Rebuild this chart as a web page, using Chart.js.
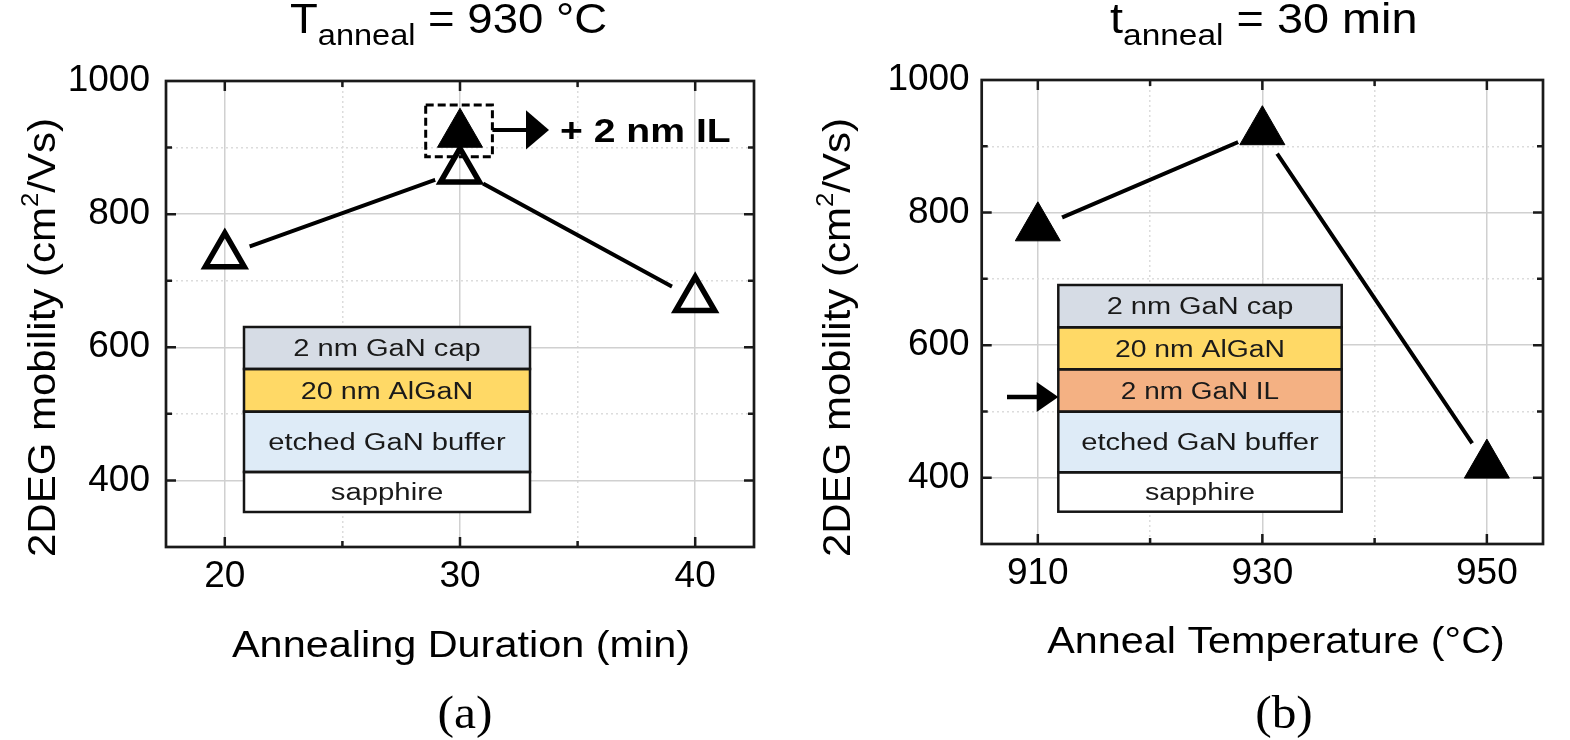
<!DOCTYPE html>
<html>
<head>
<meta charset="utf-8">
<script src="https://cdn.jsdelivr.net/npm/chart.js@4.4.1/dist/chart.umd.min.js"></script>
<style>
html, body { margin: 0; padding: 0; background: #fff; width: 1570px; height: 740px; overflow: hidden; }
canvas { position: absolute; top: 0; }
#c1 { left: 0; }
#c2 { left: 785px; }
</style>
</head>
<body>
<canvas id="c1" width="785" height="740"></canvas>
<canvas id="c2" width="785" height="740"></canvas>
<script>
// ---------- data ----------
const durationMin = [20, 30, 40];
const mobilityVsDuration = [738, 865, 672];
const ilDurationMin = [30];
const ilMobility = [920];
const annealTempC = [910, 930, 950];
const mobilityVsTemp = [777, 922, 419];

const durationTicks = [20, 25, 30, 35, 40];
const durationTickLabels = ['20', '', '30', '', '40'];
const tempTicks = [910, 920, 930, 940, 950];
const tempTickLabels = ['910', '', '930', '', '950'];
const mobilityTicks = [400, 500, 600, 700, 800, 900, 1000];
const mobilityTickLabels = ['400', '', '600', '', '800', '', '1000'];

const stackA = ['2 nm GaN cap', '20 nm AlGaN', 'etched GaN buffer', 'sapphire'];
const stackB = ['2 nm GaN cap', '20 nm AlGaN', '2 nm GaN IL', 'etched GaN buffer', 'sapphire'];

// ---------- styling / layout ----------
const SANS = '"Liberation Sans", Arial, Helvetica, sans-serif';
const SERIF = '"Liberation Serif", "Times New Roman", serif';
const LAYER_COLORS = {
  '2 nm GaN cap': '#d6dce5',
  '20 nm AlGaN': '#ffd966',
  '2 nm GaN IL': '#f4b183',
  'etched GaN buffer': '#deebf7',
  'sapphire': '#ffffff'
};

function richText(ctx, segs, x, y, o) {
  o = o || {};
  ctx.save();
  let total = 0;
  const ws = segs.map(s => {
    ctx.font = (s.weight || 'normal') + ' ' + s.size + 'px ' + (s.family || SANS);
    const w = ctx.measureText(s.text).width;
    total += w;
    return w;
  });
  const k = o.width ? o.width / total : 1;
  ctx.translate(x, y);
  if (o.rotate) ctx.rotate(o.rotate);
  ctx.scale(k, 1);
  let cx = o.align === 'left' ? 0 : -total / 2;
  ctx.fillStyle = o.color || '#000';
  ctx.textBaseline = 'alphabetic';
  ctx.textAlign = 'left';
  segs.forEach((s, i) => {
    ctx.font = (s.weight || 'normal') + ' ' + s.size + 'px ' + (s.family || SANS);
    ctx.fillText(s.text, cx, s.dy || 0);
    cx += ws[i];
  });
  ctx.restore();
}

function drawStack(ctx, left, right, edges, names, widths, size) {
  ctx.save();
  names.forEach((n, i) => {
    ctx.fillStyle = LAYER_COLORS[n];
    ctx.fillRect(left, edges[i], right - left, edges[i + 1] - edges[i]);
  });
  ctx.strokeStyle = '#151515';
  ctx.lineWidth = 2.5;
  names.forEach((n, i) => {
    ctx.strokeRect(left, edges[i], right - left, edges[i + 1] - edges[i]);
  });
  names.forEach((n, i) => {
    richText(ctx, [{ text: n, size: size }], (left + right) / 2,
      (edges[i] + edges[i + 1]) / 2 + 0.36 * size, { width: widths[i], color: '#1a1a1a' });
  });
  ctx.restore();
}

function arrow(ctx, x0, x1, headStart, y, halfH, lw) {
  ctx.save();
  ctx.strokeStyle = '#000';
  ctx.fillStyle = '#000';
  ctx.lineWidth = lw;
  ctx.beginPath();
  ctx.moveTo(x0, y);
  ctx.lineTo(headStart + 2, y);
  ctx.stroke();
  ctx.beginPath();
  ctx.moveTo(headStart, y - halfH);
  ctx.lineTo(x1, y);
  ctx.lineTo(headStart, y + halfH);
  ctx.closePath();
  ctx.fill();
  ctx.restore();
}

function makeFrame(hooks) {
  return {
    id: 'frame',
    beforeDatasetsDraw(chart) {
      const { ctx, chartArea: a } = chart;
      const x = chart.scales.x, y = chart.scales.y;
      ctx.save();
      ctx.strokeStyle = '#1a1a1a';
      ctx.lineWidth = 2.5;
      ctx.beginPath();
      x.ticks.forEach(t => {
        const px = x.getPixelForValue(t.value);
        const L = t.label ? 10 : 6;
        ctx.moveTo(px, a.bottom); ctx.lineTo(px, a.bottom - L);
        ctx.moveTo(px, a.top); ctx.lineTo(px, a.top + L);
      });
      y.ticks.forEach(t => {
        const py = y.getPixelForValue(t.value);
        if (Math.abs(py - a.top) < 2 || Math.abs(py - a.bottom) < 2) return;
        const L = t.label ? 10 : 6;
        ctx.moveTo(a.left, py); ctx.lineTo(a.left + L, py);
        ctx.moveTo(a.right, py); ctx.lineTo(a.right - L, py);
      });
      ctx.stroke();
      ctx.lineWidth = 2.7;
      ctx.strokeRect(a.left, a.top, a.right - a.left, a.bottom - a.top);
      ctx.restore();
      if (hooks.stack) hooks.stack(ctx, chart);
    },
    afterDatasetsDraw(chart) {
      if (hooks.annot) hooks.annot(chart.ctx, chart);
    },
    afterDraw(chart) {
      if (hooks.texts) hooks.texts(chart.ctx, chart);
    }
  };
}

const gapPlugin = {
  id: 'gap',
  beforeDatasetDraw(chart, args) {
    const ds = chart.data.datasets[args.index];
    if (!ds.gapRadius) return;
    const ctx = chart.ctx;
    const pts = chart.getDatasetMeta(args.index).data;
    ctx.save();
    ctx.beginPath();
    ctx.rect(0, 0, chart.width, chart.height);
    pts.forEach(p => {
      ctx.moveTo(p.x + ds.gapRadius, p.y);
      ctx.arc(p.x, p.y, ds.gapRadius, 0, Math.PI * 2, true);
    });
    ctx.clip('evenodd');
  },
  afterDatasetDraw(chart, args) {
    if (chart.data.datasets[args.index].gapRadius) chart.ctx.restore();
  }
};

function axisOpts(min, max, ticks, labels, fitProp, fitVal, pad) {
  return {
    type: 'linear',
    min: min,
    max: max,
    afterFit: s => { s[fitProp] = fitVal; },
    afterBuildTicks: s => { s.ticks = ticks.map(v => ({ value: v })); },
    ticks: {
      autoSkip: false,
      maxRotation: 0,
      padding: pad,
      color: '#000',
      font: { family: SANS, size: 37 },
      callback: (v, i) => labels[i]
    },
    grid: {
      drawTicks: false,
      lineWidth: 1.5,
      color: c => (c.index !== undefined && labels[c.index] === '' ? '#dcdcdc' : '#d0d0d0')
    },
    border: {
      display: false,
      dash: c => (c.tick && c.index !== undefined && labels[c.index] === '' ? [2, 3] : [])
    },
    title: { display: false }
  };
}

function yTitle(ctx, x) {
  richText(ctx, [
    { text: '2DEG mobility (cm', size: 39 },
    { text: '2', size: 24, dy: -17 },
    { text: '/Vs)', size: 39 }
  ], x, 337.5, { rotate: -Math.PI / 2, width: 439 });
}

// ---------- chart (a) ----------
new Chart(document.getElementById('c1'), {
  type: 'line',
  data: {
    datasets: [
      {
        label: '+ 2 nm IL',
        data: ilDurationMin.map((d, i) => ({ x: d, y: ilMobility[i] })),
        showLine: false,
        pointStyle: 'triangle',
        pointRadius: 26,
        pointBackgroundColor: '#000',
        pointBorderColor: '#000',
        pointBorderWidth: 1,
        clip: false,
        order: 0
      },
      {
        label: 'points',
        data: durationMin.map((d, i) => ({ x: d, y: mobilityVsDuration[i] })),
        showLine: false,
        pointStyle: 'triangle',
        pointRadius: 22.5,
        pointBackgroundColor: 'rgba(255,255,255,0)',
        pointBorderColor: '#000',
        pointBorderWidth: 5.5,
        clip: false,
        order: 1
      },
      {
        label: 'line',
        data: durationMin.map((d, i) => ({ x: d, y: mobilityVsDuration[i] })),
        pointRadius: 0,
        borderColor: '#000',
        borderWidth: 4,
        gapRadius: 26.5,
        clip: false,
        order: 2
      }
    ]
  },
  options: {
    responsive: false,
    animation: false,
    events: [],
    layout: { padding: { left: 0, top: 81, right: 31, bottom: 0 } },
    scales: {
      x: axisOpts(17.5, 42.5, durationTicks, durationTickLabels, 'height', 193, 8),
      y: axisOpts(300, 1000, mobilityTicks, mobilityTickLabels, 'width', 166, 16)
    },
    plugins: {
      legend: { display: false },
      tooltip: { enabled: false }
    }
  },
  plugins: [makeFrame({
    stack: (ctx) => {
      drawStack(ctx, 244, 530, [327, 369, 411.7, 472, 512], stackA,
        [187.5, 172.5, 237.5, 112.5], 23);
    },
    annot: (ctx, chart) => {
      const p = chart.getDatasetMeta(0).data[0];
      const px = p.x, py = p.y;
      ctx.save();
      ctx.strokeStyle = '#000';
      ctx.lineWidth = 3;
      ctx.setLineDash([8, 4]);
      ctx.strokeRect(px - 34.3, py - 29.3, 66.7, 51.7);
      ctx.restore();
      arrow(ctx, px + 32.4, px + 89, px + 66, py - 4.3, 19.6, 4);
      richText(ctx, [{ text: '+ 2 nm IL', size: 33, weight: 'bold' }], px + 100, py + 7.4,
        { align: 'left', width: 170.7 });
    },
    texts: (ctx) => {
      richText(ctx, [
        { text: 'T', size: 42 },
        { text: 'anneal', size: 30, dy: 12 },
        { text: ' = 930 °C', size: 42 }
      ], 448.5, 33.3, { width: 317 });
      yTitle(ctx, 55);
      richText(ctx, [{ text: 'Annealing Duration (min)', size: 36 }], 461, 656.7, { width: 458 });
      richText(ctx, [{ text: '(a)', size: 46, family: SERIF }], 465, 728, { width: 55 });
    }
  }), gapPlugin]
});

// ---------- chart (b) ----------
new Chart(document.getElementById('c2'), {
  type: 'line',
  data: {
    datasets: [
      {
        label: 'points',
        data: annealTempC.map((t, i) => ({ x: t, y: mobilityVsTemp[i] })),
        showLine: false,
        pointStyle: 'triangle',
        pointRadius: 26,
        pointBackgroundColor: '#000',
        pointBorderColor: '#000',
        pointBorderWidth: 1,
        clip: false,
        order: 0
      },
      {
        label: 'line',
        data: annealTempC.map((t, i) => ({ x: t, y: mobilityVsTemp[i] })),
        pointRadius: 0,
        borderColor: '#000',
        borderWidth: 4,
        gapRadius: 26.5,
        clip: false,
        order: 1
      }
    ]
  },
  options: {
    responsive: false,
    animation: false,
    events: [],
    layout: { padding: { left: 0, top: 80, right: 3.3, bottom: 0 } },
    scales: {
      x: axisOpts(905, 955, tempTicks, tempTickLabels, 'height', 196, 8),
      y: axisOpts(300, 1000, mobilityTicks, mobilityTickLabels, 'width', 196.7, 12)
    },
    plugins: {
      legend: { display: false },
      tooltip: { enabled: false }
    }
  },
  plugins: [makeFrame({
    stack: (ctx) => {
      drawStack(ctx, 273.3, 556.7, [285, 327.3, 369.3, 411.7, 472.3, 511.7], stackB,
        [186.7, 170, 158.3, 237.5, 110], 23);
      arrow(ctx, 222, 273.3, 251.7, 397, 15, 4.5);
    },
    texts: (ctx) => {
      richText(ctx, [
        { text: 't', size: 42 },
        { text: 'anneal', size: 30, dy: 12 },
        { text: ' = 30 min', size: 42 }
      ], 478.75, 33.3, { width: 307.5 });
      yTitle(ctx, 65);
      richText(ctx, [{ text: 'Anneal Temperature (°C)', size: 36 }], 491, 653.3, { width: 457.5 });
      richText(ctx, [{ text: '(b)', size: 46, family: SERIF }], 499, 728, { width: 57.5 });
    }
  }), gapPlugin]
});
</script>
</body>
</html>
